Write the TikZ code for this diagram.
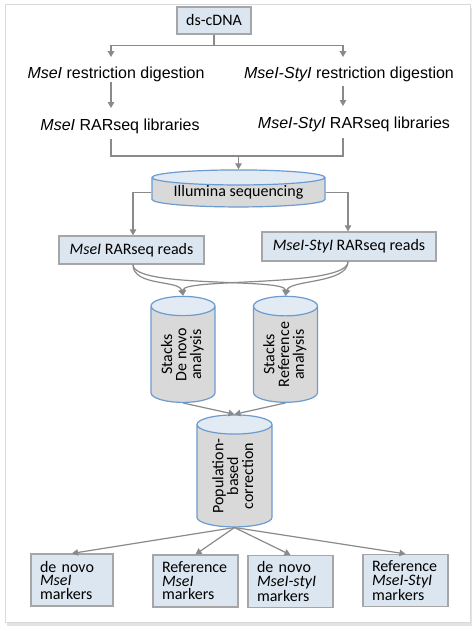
\documentclass[tikz,border=0pt]{standalone}
\usepackage{fontspec}
\setmainfont{Carlito}
\newfontfamily\arialfont{Liberation Sans}
\usetikzlibrary{shapes.geometric,arrows.meta}

\definecolor{boxfill}{RGB}{220,230,241}
\definecolor{boxline}{RGB}{166,166,166}
\definecolor{cylline}{RGB}{108,155,207}
\definecolor{cylbody}{RGB}{217,217,217}
\definecolor{cylend}{RGB}{226,234,244}
\definecolor{linkgray}{RGB}{138,138,138}

\newcommand{\upright}[1]{\rotatebox{90}{\begin{tabular}{@{}c@{}}#1\end{tabular}}}

\tikzset{every picture/.style={line width=1pt}}
\tikzset{
  box/.style={draw=boxline, fill=boxfill, line width=1.2pt, inner sep=0pt, font=\fontsize{16}{13.5}\selectfont},
  markbox/.style={box, align=left, inner xsep=9pt, minimum height=52pt},
  plaintext/.style={inner sep=0pt, font=\arialfont\fontsize{16}{19}\selectfont},
  drum/.style={cylinder, shape border rotate=90, draw=cylline, line width=1.2pt, cylinder uses custom fill, cylinder body fill=cylbody, cylinder end fill=cylend, inner sep=0pt, font=\fontsize{16}{12.5}\selectfont},
  link/.style={draw=linkgray, line width=1.2pt},
  arrow/.style={link, -{Triangle[length=6pt,width=6.5pt]}},
}

\begin{document}
\begin{tikzpicture}[x=1pt,y=1pt,yscale=-1]
    \useasboundingbox (0,0) rectangle (474,631);

    % frame with soft shadow
    \fill [gray!22] (7,8) rectangle (472,626);
    \draw [draw=gray!30, fill=white] (5,5) rectangle (470,622);

    % columns for the vertical connectors
    \coordinate (colL) at (111,0);
    \coordinate (colR) at (343,0);
    \coordinate (readL) at (133,0);
    \coordinate (readR) at (348,0);
    \coordinate (merge) at (238.5,156);

    % Nodes
    \node [box, minimum width=74pt, minimum height=27pt] (dna) at (214,20.5) {ds-cDNA};
    \node [plaintext] (dig1) at (116,74) {\textit{MseI} restriction digestion};
    \node [plaintext] (dig2) at (349,74) {\textit{MseI-StyI} restriction digestion};
    \node [plaintext] (lib1) at (120,126) {\textit{MseI} RARseq libraries};
    \node [plaintext] (lib2) at (354,124) {\textit{MseI-StyI} RARseq libraries};
    \node [drum, minimum width=173pt, minimum height=35pt, aspect=0.116] (ill) at (238.5,192.5) {Illumina sequencing};
    \node [box, minimum width=145pt, minimum height=28pt] (rd1) at (131.5,250) {\textit{MseI} RARseq reads};
    \node [box, minimum width=174pt, minimum height=29pt] (rd2) at (349,246.5) {\textit{MseI-StyI} RARseq reads};
    \node [drum, minimum width=64pt, minimum height=106pt, aspect=0.44] (st1) at (183,354.5) {\upright{Stacks\\De novo\\analysis}};
    \node [drum, minimum width=64pt, minimum height=106pt, aspect=0.44] (st2) at (285.5,354.5) {\upright{Stacks\\Reference\\analysis}};
    \node [drum, minimum width=75pt, minimum height=112pt, aspect=0.43] (pop) at (234.5,476) {\upright{Population-\\based\\correction}};
    \node [markbox, text width=64pt] (mk1) at (72,580) {de novo\\\textit{MseI}\\markers};
    \node [markbox, text width=67pt] (mk2) at (195.5,581) {Reference\\\textit{MseI}\\markers};
    \node [markbox, text width=67pt] (mk3) at (290.5,581.5) {de novo\\\textit{MseI-styI}\\markers};
    \node [markbox, text width=67pt] (mk4) at (405.5,580.5) {Reference\\\textit{MseI-StyI}\\markers};

    % Connectors
    \draw [link] (dna.south) -- ++(0,11) coordinate (fork);
    \draw [arrow, shorten >=9pt] (fork) -| (colL |- dig1.north);
    \draw [arrow, shorten >=9pt] (fork) -| (colR |- dig2.north);
    \draw [arrow, shorten >=10pt] (colL |- dig1.south) -- (colL |- lib1.north);
    \draw [arrow, shorten <=4pt, shorten >=10pt] (colR |- dig2.south) -- (colR |- lib2.north);
    \draw [link, shorten <=5pt, shorten >=6pt] (colL |- lib1.south) |- (merge) -| (colR |- lib2.south);
    \draw [arrow] (merge) -- (ill.top);
    \draw [arrow] (ill.west) -| (readL |- rd1.north);
    \draw [arrow] (ill.east) -| (readR |- rd2.north);
    \draw [arrow] (readL |- rd1.south) .. controls +(0,22) and +(-4,-16) .. (st1.top);
    \draw [arrow] (readL |- rd1.south) .. controls +(0,24) and +(0,-18) .. (st2.top);
    \draw [arrow] (readR |- rd2.south) .. controls +(0,26) and +(0,-18) .. (st1.top);
    \draw [arrow] (readR |- rd2.south) .. controls +(0,22) and +(4,-16) .. (st2.top);
    \draw [arrow] (st1.bottom) -- (pop.top);
    \draw [arrow] (st2.bottom) -- (pop.top);
    \draw [arrow] (pop.bottom) -- (mk1.north);
    \draw [arrow] (pop.bottom) -- (mk2.north);
    \draw [arrow] (pop.bottom) -- (mk3.north);
    \draw [arrow] (pop.bottom) -- (mk4.north);

\end{tikzpicture}
\end{document}
